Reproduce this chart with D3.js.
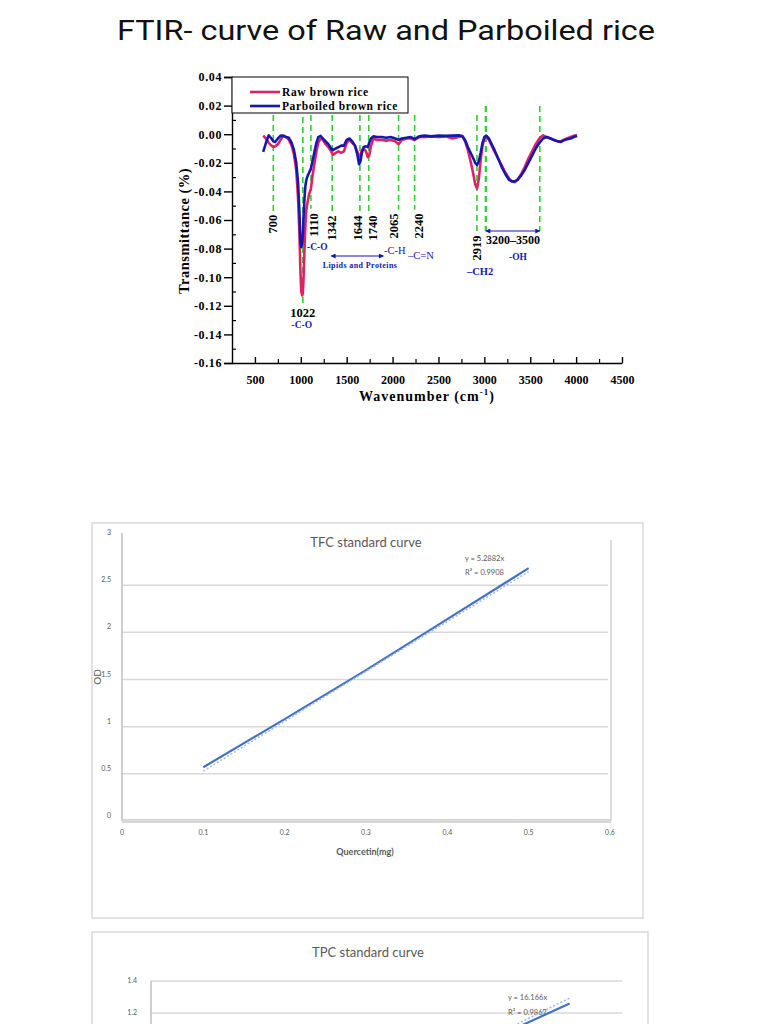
<!DOCTYPE html>
<html><head><meta charset="utf-8">
<script src="https://cdn.jsdelivr.net/npm/d3@7"></script>
<style>body{margin:0;background:#fff}svg{display:block}</style>
</head><body>
<script>
// ---------- FTIR data ----------
const wavenumbers = [590,620,650,680,700,720,750,780,810,840,870,900,925,950,970,985,995,1005,1015,1022,1030,1040,1050,1060,1075,1090,1110,1130,1150,1170,1190,1215,1240,1270,1300,1330,1350,1380,1410,1440,1470,1500,1530,1560,1590,1615,1635,1650,1665,1685,1710,1730,1745,1765,1790,1830,1880,1930,1980,2030,2065,2100,2150,2200,2240,2290,2350,2420,2500,2580,2650,2720,2760,2790,2820,2850,2880,2900,2920,2940,2960,2980,3000,3020,3050,3080,3110,3150,3190,3230,3270,3300,3330,3360,3400,3440,3480,3520,3560,3600,3640,3680,3720,3760,3800,3830,3860,3900,3940,3980,4010];
const rawBrown = [-0.001,-0.003,-0.006,-0.008,-0.009,-0.0085,-0.007,-0.004,-0.001,-0.002,-0.004,-0.008,-0.014,-0.025,-0.045,-0.07,-0.095,-0.11,-0.1127,-0.111,-0.1,-0.08,-0.063,-0.053,-0.047,-0.042,-0.038,-0.028,-0.02,-0.012,-0.006,-0.003,-0.004,-0.007,-0.009,-0.012,-0.0145,-0.013,-0.012,-0.013,-0.012,-0.006,-0.004,-0.006,-0.008,-0.012,-0.016,-0.015,-0.011,-0.01,-0.012,-0.016,-0.015,-0.008,-0.003,-0.004,-0.004,-0.0045,-0.004,-0.005,-0.007,-0.004,-0.003,-0.003,-0.004,-0.002,-0.002,-0.0015,-0.002,-0.0015,-0.003,-0.002,-0.0015,-0.005,-0.011,-0.019,-0.028,-0.035,-0.038,-0.031,-0.018,-0.008,-0.003,-0.0015,-0.004,-0.008,-0.012,-0.017,-0.022,-0.027,-0.031,-0.033,-0.0335,-0.032,-0.028,-0.023,-0.017,-0.012,-0.007,-0.003,-0.0008,-0.002,-0.003,-0.004,-0.005,-0.005,-0.004,-0.003,-0.002,-0.001,-0.0008];
const parboiledBrown = [-0.0124,-0.006,-0.0008,-0.003,-0.005,-0.0055,-0.003,-0.001,-0.0012,-0.002,-0.0025,-0.006,-0.011,-0.02,-0.034,-0.055,-0.075,-0.079,-0.077,-0.07,-0.058,-0.045,-0.036,-0.032,-0.029,-0.027,-0.024,-0.018,-0.012,-0.006,-0.002,-0.0012,-0.003,-0.005,-0.007,-0.01,-0.0112,-0.01,-0.009,-0.008,-0.008,-0.004,-0.003,-0.005,-0.008,-0.014,-0.021,-0.019,-0.013,-0.009,-0.0085,-0.009,-0.006,-0.003,-0.0015,-0.002,-0.002,-0.0025,-0.002,-0.003,-0.004,-0.003,-0.0025,-0.002,-0.0035,-0.0015,-0.001,-0.0015,-0.001,-0.0012,-0.001,-0.0008,-0.0012,-0.004,-0.009,-0.013,-0.017,-0.02,-0.0215,-0.019,-0.013,-0.006,-0.002,-0.001,-0.003,-0.007,-0.011,-0.017,-0.023,-0.028,-0.032,-0.033,-0.033,-0.032,-0.029,-0.025,-0.02,-0.015,-0.01,-0.006,-0.003,-0.002,-0.003,-0.004,-0.005,-0.0055,-0.0045,-0.0035,-0.003,-0.0018,-0.0012];
const seriesNames = ["Raw brown rice","Parboiled brown rice"];
const ftirYTicks = [0.04,0.02,0.00,-0.02,-0.04,-0.06,-0.08,-0.10,-0.12,-0.14,-0.16];
const ftirXTicks = [500,1000,1500,2000,2500,3000,3500,4000,4500];
const peakWavenumbers = [700,1110,1342,1644,1740,2065,2240,2919];
const peakLabels = ["700","1110","1342","1644","1740","2065","2240","2919"];
const ohBand = [3016,3604];

// ---------- TFC data ----------
const tfcQuercetin = [0.1,0.2,0.3,0.4,0.5];
const tfcOD = [0.57,1.08,1.6,2.14,2.68];
const tfcYTicks = [0,0.5,1,1.5,2,2.5,3];
const tfcXTicks = [0,0.1,0.2,0.3,0.4,0.5,0.6];
const tfcSlope = 5.2882;

// ---------- TPC data ----------
const tpcX = [0.07,0.08];
const tpcOD = [1.11,1.26];
const tpcYTicks = [1.2,1.4];
const tpcSlope = 16.166;

const W=768,H=1024;
const svg=d3.select("body").append("svg").attr("width",W).attr("height",H);
svg.append("rect").attr("width",W).attr("height",H).attr("fill","#fff");

// ===== FTIR =====
svg.append("text").attr("x",386).attr("y",40).attr("text-anchor","middle")
  .attr("font-family","Roboto, 'Noto Sans', sans-serif").attr("font-size",27).attr("fill","#111")
  .attr("textLength",538).attr("lengthAdjust","spacingAndGlyphs")
  .text("FTIR- curve of Raw and Parboiled rice");

const serif="'Liberation Serif','Times New Roman',serif";
const x=d3.scaleLinear().domain([250,4500]).range([232,622]);
const y=d3.scaleLinear().domain([-0.16,0.04]).range([363,77]);
const red="#df2266", blue="#1717b0", green="#2fcf2f";

const ga=svg.append("g").attr("font-family",serif).attr("font-weight","bold");
// axes
const yAx=d3.axisLeft(y).tickValues(ftirYTicks).tickSize(8).tickFormat(d=>d3.format(".2f")(d).replace("−","-"));
const gy=ga.append("g").attr("transform","translate(232,0)").call(yAx);
gy.attr("font-size",null).attr("font-family",null);
gy.selectAll("text").attr("font-size",12).attr("letter-spacing",0.6).attr("font-family",serif).attr("font-weight","bold").attr("fill","#000").attr("x",-10);
gy.selectAll("line,path").attr("stroke","#000").attr("stroke-width",1.4);
ga.append("g").attr("transform","translate(232,0)")
  .call(d3.axisRight(y).tickValues(d3.range(-0.15,0.04,0.02)).tickSize(4).tickFormat(""))
  .call(g=>{g.select("path").remove();g.selectAll("line").attr("stroke","#000").attr("stroke-width",1.2);});
const xAx=d3.axisBottom(x).tickValues(ftirXTicks).tickSizeInner(-6).tickSizeOuter(0).tickPadding(12).tickFormat(d3.format("d"));
const gx=ga.append("g").attr("transform","translate(0,363)").call(xAx);
gx.attr("font-size",null).attr("font-family",null);
gx.selectAll("text").attr("font-size",12).attr("font-family",serif).attr("font-weight","bold").attr("fill","#000");
gx.selectAll("line,path").attr("stroke","#000").attr("stroke-width",1.4);
ga.append("g").attr("transform","translate(0,363)")
  .call(d3.axisBottom(x).tickValues(d3.range(750,4500,500)).tickSize(-4).tickFormat(""))
  .call(g=>{g.select("path").remove();g.selectAll("line").attr("stroke","#000").attr("stroke-width",1.2);});
ga.append("text").attr("transform","translate(189,231) rotate(-90)").attr("text-anchor","middle")
  .attr("font-size",14.5).attr("letter-spacing",0.5).text("Transmittance (%)");
const xl=ga.append("text").attr("x",427).attr("y",401).attr("text-anchor","middle").attr("font-size",14).attr("letter-spacing",1);
xl.append("tspan").text("Wavenumber (cm");
xl.append("tspan").attr("dy",-6).attr("font-size",9).text("-1");
xl.append("tspan").attr("dy",6).text(")");

// green dashed reference lines
const peakLabelY=[224,225,228,228,228,226,226,248];
const peakLabelDx=[0,3,0,-2,4,-5,4,0];
const gl=svg.append("g").attr("stroke",green).attr("stroke-width",1.6).attr("stroke-dasharray","6,4");
peakWavenumbers.forEach((w,i)=>{
  const half = peakLabels[i].length*3.3+3;
  gl.append("line").attr("x1",x(w)).attr("x2",x(w)).attr("y1",115).attr("y2",peakLabelY[i]-half);
});
gl.append("line").attr("x1",x(1022)).attr("x2",x(1022)).attr("y1",117).attr("y2",305);
ohBand.forEach(w=>gl.append("line").attr("x1",x(w)).attr("x2",x(w)).attr("y1",106).attr("y2",231).attr("stroke-width",w===3016?2.2:1.6));

// curves
const line=d3.line().x(d=>x(d[0])).y(d=>y(d[1])).curve(d3.curveLinear);
[[rawBrown,red],[parboiledBrown,blue]].forEach(([s,c])=>{
  svg.append("path").datum(wavenumbers.map((w,i)=>[w,s[i]])).attr("d",line)
    .attr("fill","none").attr("stroke",c).attr("stroke-width",2.6).attr("stroke-linejoin","round");
});

// legend
svg.append("rect").attr("x",232).attr("y",77).attr("width",176).attr("height",36).attr("fill","#fff").attr("stroke","#000").attr("stroke-width",1);
seriesNames.forEach((n,i)=>{
  const yy=92+i*14;
  svg.append("line").attr("x1",250).attr("x2",280).attr("y1",yy).attr("y2",yy).attr("stroke",[red,blue][i]).attr("stroke-width",2.6);
  svg.append("text").attr("x",282).attr("y",yy+4).attr("font-family",serif).attr("font-weight","bold").attr("font-size",11.5)
    .attr("letter-spacing",0.6).text(n);
});

// peak labels
const gt=svg.append("g").attr("font-family",serif).attr("font-weight","bold").attr("font-size",12.5);
peakWavenumbers.forEach((w,i)=>{
  gt.append("text").attr("transform",`translate(${x(w)+4+peakLabelDx[i]},${peakLabelY[i]}) rotate(-90)`).attr("text-anchor","middle").text(peakLabels[i]);
});
gt.append("text").attr("x",x(1022)).attr("y",317).attr("text-anchor","middle").text("1022");
gt.append("text").attr("x",513).attr("y",244).attr("text-anchor","middle").attr("font-size",12).text("3200–3500");
const bl=svg.append("g").attr("font-family",serif).attr("font-weight","bold").attr("fill",blue).attr("font-size",9.5);
bl.append("text").attr("x",x(1022)-1).attr("y",328).attr("text-anchor","middle").text("-C-O");
bl.append("text").attr("x",307).attr("y",250).text("-C-O");
bl.append("text").attr("x",360).attr("y",268).attr("text-anchor","middle").attr("font-size",8).attr("letter-spacing",0.4).text("Lipids and Proteins");
bl.append("text").attr("x",384).attr("y",254).attr("font-weight","normal").attr("font-size",10.5).text("-C-H");
bl.append("text").attr("x",408).attr("y",259).attr("font-weight","normal").attr("font-size",10.5).text("–C=N");
bl.append("text").attr("x",518).attr("y",260).attr("text-anchor","middle").text("-OH");
bl.append("text").attr("x",480).attr("y",275).attr("text-anchor","middle").attr("font-size",10.5).text("–CH2");
// double arrows
const defs=svg.append("defs");
defs.append("marker").attr("id","ah").attr("viewBox","0 0 10 10").attr("refX",9).attr("refY",5)
  .attr("markerWidth",6).attr("markerHeight",5).attr("orient","auto-start-reverse")
  .append("path").attr("d","M0,0L10,5L0,10z").attr("fill",blue);
[[1330,1900,256],[ohBand[0],ohBand[1],231]].forEach(([a,b,yy])=>{
  svg.append("line").attr("x1",x(a)).attr("x2",x(b)).attr("y1",yy).attr("y2",yy).attr("stroke",blue).attr("stroke-width",1)
    .attr("marker-start","url(#ah)").attr("marker-end","url(#ah)");
});

// ===== TFC chart =====
const xlsFont="Lato, 'Open Sans', sans-serif";
const gray="#595959", grid="#d9d9d9";
svg.append("rect").attr("x",92).attr("y",523).attr("width",551).attr("height",395).attr("fill","#fff").attr("stroke",grid).attr("stroke-width",1.5);
const tx=d3.scaleLinear().domain([0,0.6]).range([122,610]);
const ty=d3.scaleLinear().domain([0,3]).range([821,538]);
const tg=svg.append("g").attr("font-family",xlsFont);
tfcYTicks.filter(v=>v>0&&v<3).forEach(v=>tg.append("line").attr("x1",122).attr("x2",608).attr("y1",ty(v)).attr("y2",ty(v)).attr("stroke",grid).attr("stroke-width",1.5));
tg.append("line").attr("x1",122).attr("x2",122).attr("y1",533).attr("y2",821).attr("stroke","#bfbfbf").attr("stroke-width",1.5);
tg.append("line").attr("x1",611).attr("x2",611).attr("y1",540).attr("y2",821).attr("stroke","#d0d0d0").attr("stroke-width",1.5);
tg.append("line").attr("x1",122).attr("x2",611).attr("y1",821).attr("y2",821).attr("stroke","#c8c8c8").attr("stroke-width",3.5);
tg.append("line").attr("x1",122).attr("x2",611).attr("y1",821).attr("y2",821).attr("stroke","#ececec").attr("stroke-width",1);
tfcYTicks.forEach(v=>tg.append("text").attr("x",111).attr("y",ty(v)-3).attr("text-anchor","end").attr("font-size",7).attr("fill",gray).text(v));
tfcXTicks.forEach(v=>tg.append("text").attr("x",tx(v)).attr("y",835).attr("text-anchor","middle").attr("font-size",7).attr("fill",gray).text(v));
tg.append("text").attr("x",366).attr("y",547).attr("text-anchor","middle").attr("font-size",13).attr("fill",gray).text("TFC standard curve");
tg.append("text").attr("x",365).attr("y",855).attr("text-anchor","middle").attr("font-size",9).attr("font-weight","bold").attr("fill",gray).text("Quercetin(mg)");
tg.append("text").attr("transform","translate(101,677) rotate(-90)").attr("text-anchor","middle").attr("font-size",10).attr("fill",gray).text("OD");
tg.append("text").attr("x",465).attr("y",561).attr("font-size",7.5).attr("fill",gray).text("y = "+tfcSlope+"x");
tg.append("text").attr("x",465).attr("y",575).attr("font-size",7.5).attr("fill",gray).text("R² = 0.9908");
const tl=d3.line().x(d=>tx(d[0])).y(d=>ty(d[1]));
tg.append("path").datum(tfcQuercetin.map((q,i)=>[q,tfcOD[i]])).attr("d",tl).attr("fill","none").attr("stroke","#4472c4").attr("stroke-width",2.2);
tg.append("path").datum([tfcQuercetin[0],tfcQuercetin[tfcQuercetin.length-1]].map(q=>[q,q*tfcSlope])).attr("d",tl)
  .attr("fill","none").attr("stroke","#9fb8e6").attr("stroke-width",1.5).attr("stroke-dasharray","2,2");

// ===== TPC chart =====
svg.append("rect").attr("x",92).attr("y",932).attr("width",556).attr("height",120).attr("fill","#fff").attr("stroke",grid).attr("stroke-width",1.5);
const px=d3.scaleLinear().domain([0,0.09]).range([151,622]);
const py=d3.scaleLinear().domain([1.2,1.4]).range([1013,981]);
const pg=svg.append("g").attr("font-family",xlsFont);
tpcYTicks.forEach(v=>{
  pg.append("line").attr("x1",151).attr("x2",622).attr("y1",py(v)).attr("y2",py(v)).attr("stroke",grid).attr("stroke-width",1.5);
  pg.append("text").attr("x",137).attr("y",py(v)+2).attr("text-anchor","end").attr("font-size",7).attr("fill",gray).text(v.toFixed(1));
});
pg.append("line").attr("x1",151).attr("x2",151).attr("y1",981).attr("y2",1024).attr("stroke","#bfbfbf").attr("stroke-width",1.5);
pg.append("text").attr("x",368).attr("y",957).attr("text-anchor","middle").attr("font-size",13).attr("fill",gray).text("TPC standard curve");
pg.append("text").attr("x",508).attr("y",1000).attr("font-size",7.5).attr("fill",gray).text("y = "+tpcSlope+"x");
pg.append("text").attr("x",508).attr("y",1015).attr("font-size",7.5).attr("fill",gray).text("R² = 0.9867");
const pl=d3.line().x(d=>px(d[0])).y(d=>py(d[1]));
pg.append("path").datum(tpcX.map((q,i)=>[q,tpcOD[i]])).attr("d",pl).attr("fill","none").attr("stroke","#4472c4").attr("stroke-width",2.2);
pg.append("path").datum(tpcX.map(q=>[q,q*tpcSlope])).attr("d",pl).attr("fill","none").attr("stroke","#9fb8e6").attr("stroke-width",1.5).attr("stroke-dasharray","2,2");
</script>
</body></html>
